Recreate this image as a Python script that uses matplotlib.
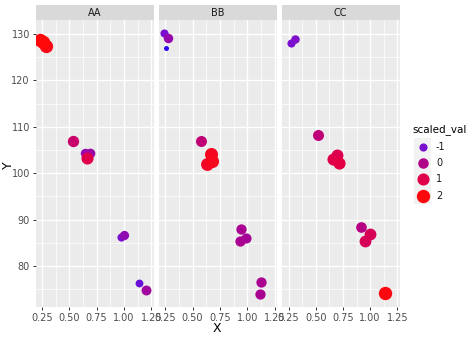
import numpy as np
import matplotlib
matplotlib.use("Agg")
import matplotlib.pyplot as plt
from matplotlib.lines import Line2D
from matplotlib.patches import Rectangle
from matplotlib.colors import LinearSegmentedColormap, Normalize

# data
facets = ["AA", "BB", "CC"]
x_aa = [0.23, 0.26, 0.29, 0.53, 0.64, 0.685, 0.663, 0.975, 0.998, 1.14, 1.204]
y_aa = [128.6, 128.2, 127.4, 107.0, 104.4, 104.3, 103.2, 86.2, 86.6, 76.4, 74.9]
v_aa = [2.0, 2.1, 1.9, 0.5, -0.5, -0.4, 1.0, -1.0, -0.6, -1.1, -0.3]

x_bb = [0.241, 0.277, 0.259, 0.58, 0.668, 0.68, 0.633, 0.941, 0.986, 0.929, 1.122, 1.117]
y_bb = [130.1, 129.1, 126.9, 107.0, 104.2, 102.7, 102.1, 88.0, 86.0, 85.4, 76.6, 74.0]
v_bb = [-1.0, -0.5, -1.5, 0.3, 1.7, 1.8, 1.6, -0.1, -0.2, -0.1, -0.1, -0.1]

x_cc = [0.271, 0.308, 0.517, 0.693, 0.66, 0.714, 0.914, 1.0, 0.955, 1.14]
y_cc = [128.1, 129.0, 108.2, 103.9, 103.0, 102.3, 88.4, 86.9, 85.4, 74.2]
v_cc = [-1.0, -0.9, 0.3, 0.9, 1.0, 1.1, 0.1, 0.8, 0.8, 2.0]

legend_breaks = [-1, 0, 1, 2]
x_ticks = [0.25, 0.50, 0.75, 1.00, 1.25]
y_ticks = [80, 90, 100, 110, 120, 130]

DPI = 100

all_v = np.array(v_aa + v_bb + v_cc)
vmin, vmax = all_v.min(), all_v.max()
norm = Normalize(vmin, vmax)
# gradient blue -> red, anchored on the legend colours
anchor_v = [vmin, -1, 0, 1, vmax]
anchor_c = ["#2a08f0", "#7a10d0", "#b0008a", "#e0004a", "#ff0a0a"]
cmap = LinearSegmentedColormap.from_list(
    "br", [(norm(v), c) for v, c in zip(anchor_v, anchor_c)])


def val_color(v):
    return cmap(norm(v))


def val_size_pt(v):
    t = (v - vmin) / (vmax - vmin)
    d_px = 5.0 + 8.5 * np.sqrt(t)
    return d_px * 72 / DPI


fig = plt.figure(figsize=(4.74, 3.38), dpi=DPI)
W, H = 474, 338
panel_x = [(35.5, 153.5), (158.5, 277), (282, 399.5)]
top, bottom = 20, 307
strip_h = 15

data = [(x_aa, y_aa, v_aa), (x_bb, y_bb, v_bb), (x_cc, y_cc, v_cc)]
for i, (name, (xs, ys, vs)) in enumerate(zip(facets, data)):
    x0, x1 = panel_x[i]
    ax = fig.add_axes([x0 / W, 1 - bottom / H, (x1 - x0) / W, (bottom - top) / H])
    ax.set_facecolor("#ebebeb")
    for s in ax.spines.values():
        s.set_visible(False)
    ax.set_xlim(0.19, 1.27)
    ax.set_ylim(71.2, 133.0)
    ax.set_xticks(x_ticks)
    ax.set_xticklabels(["%.2f" % t for t in x_ticks])
    ax.set_xticks([0.375, 0.625, 0.875, 1.125], minor=True)
    ax.set_yticks(y_ticks)
    ax.set_yticks([75, 85, 95, 105, 115, 125], minor=True)
    ax.grid(which="major", color="white", lw=1.0)
    ax.grid(which="minor", color="white", lw=0.5)
    ax.set_axisbelow(True)
    ax.tick_params(which="major", length=2.5, width=0.7, color="#333333",
                   labelsize=7, labelcolor="#4d4d4d", pad=1.5)
    ax.tick_params(which="minor", length=0)
    if i > 0:
        ax.tick_params(axis="y", which="major", length=0, labelleft=False)
    order = np.argsort(vs)
    for k in order:
        ax.plot(xs[k], ys[k], "o", ms=val_size_pt(vs[k]), color=val_color(vs[k]),
                mec="none", zorder=3)
    # strip
    sax = fig.add_axes([x0 / W, 1 - top / H, (x1 - x0) / W, strip_h / H])
    sax.set_facecolor("#d9d9d9")
    sax.set_xticks([])
    sax.set_yticks([])
    for s in sax.spines.values():
        s.set_visible(False)
    sax.text(0.5, 0.45, name, ha="center", va="center", fontsize=7,
             color="#1a1a1a", transform=sax.transAxes)

fig.text(217 / W, 1 - 328 / H, "X", ha="center", va="center", fontsize=9)
fig.text(8 / W, 1 - 165 / H, "Y", ha="center", va="center", fontsize=9,
         rotation=90)

# legend
fig.text(412 / W, 1 - 130 / H, "scaled_val", ha="left", va="center", fontsize=7.5)
key_y = [147, 163, 179, 196]
fig.patches.append(Rectangle((414 / W, 1 - 204 / H), 17 / W, 66 / H,
                             transform=fig.transFigure, facecolor="#f2f2f2",
                             edgecolor="none", figure=fig))
for v, ky in zip(legend_breaks, key_y):
    fig.add_artist(Line2D([422.5 / W], [1 - ky / H], marker="o", ms=val_size_pt(v),
                          color=val_color(v), mec="none", ls="none",
                          transform=fig.transFigure))
    fig.text(436 / W, 1 - ky / H, str(v), ha="left", va="center", fontsize=7,
             color="#1a1a1a")

fig.savefig("out.png", dpi=DPI)
